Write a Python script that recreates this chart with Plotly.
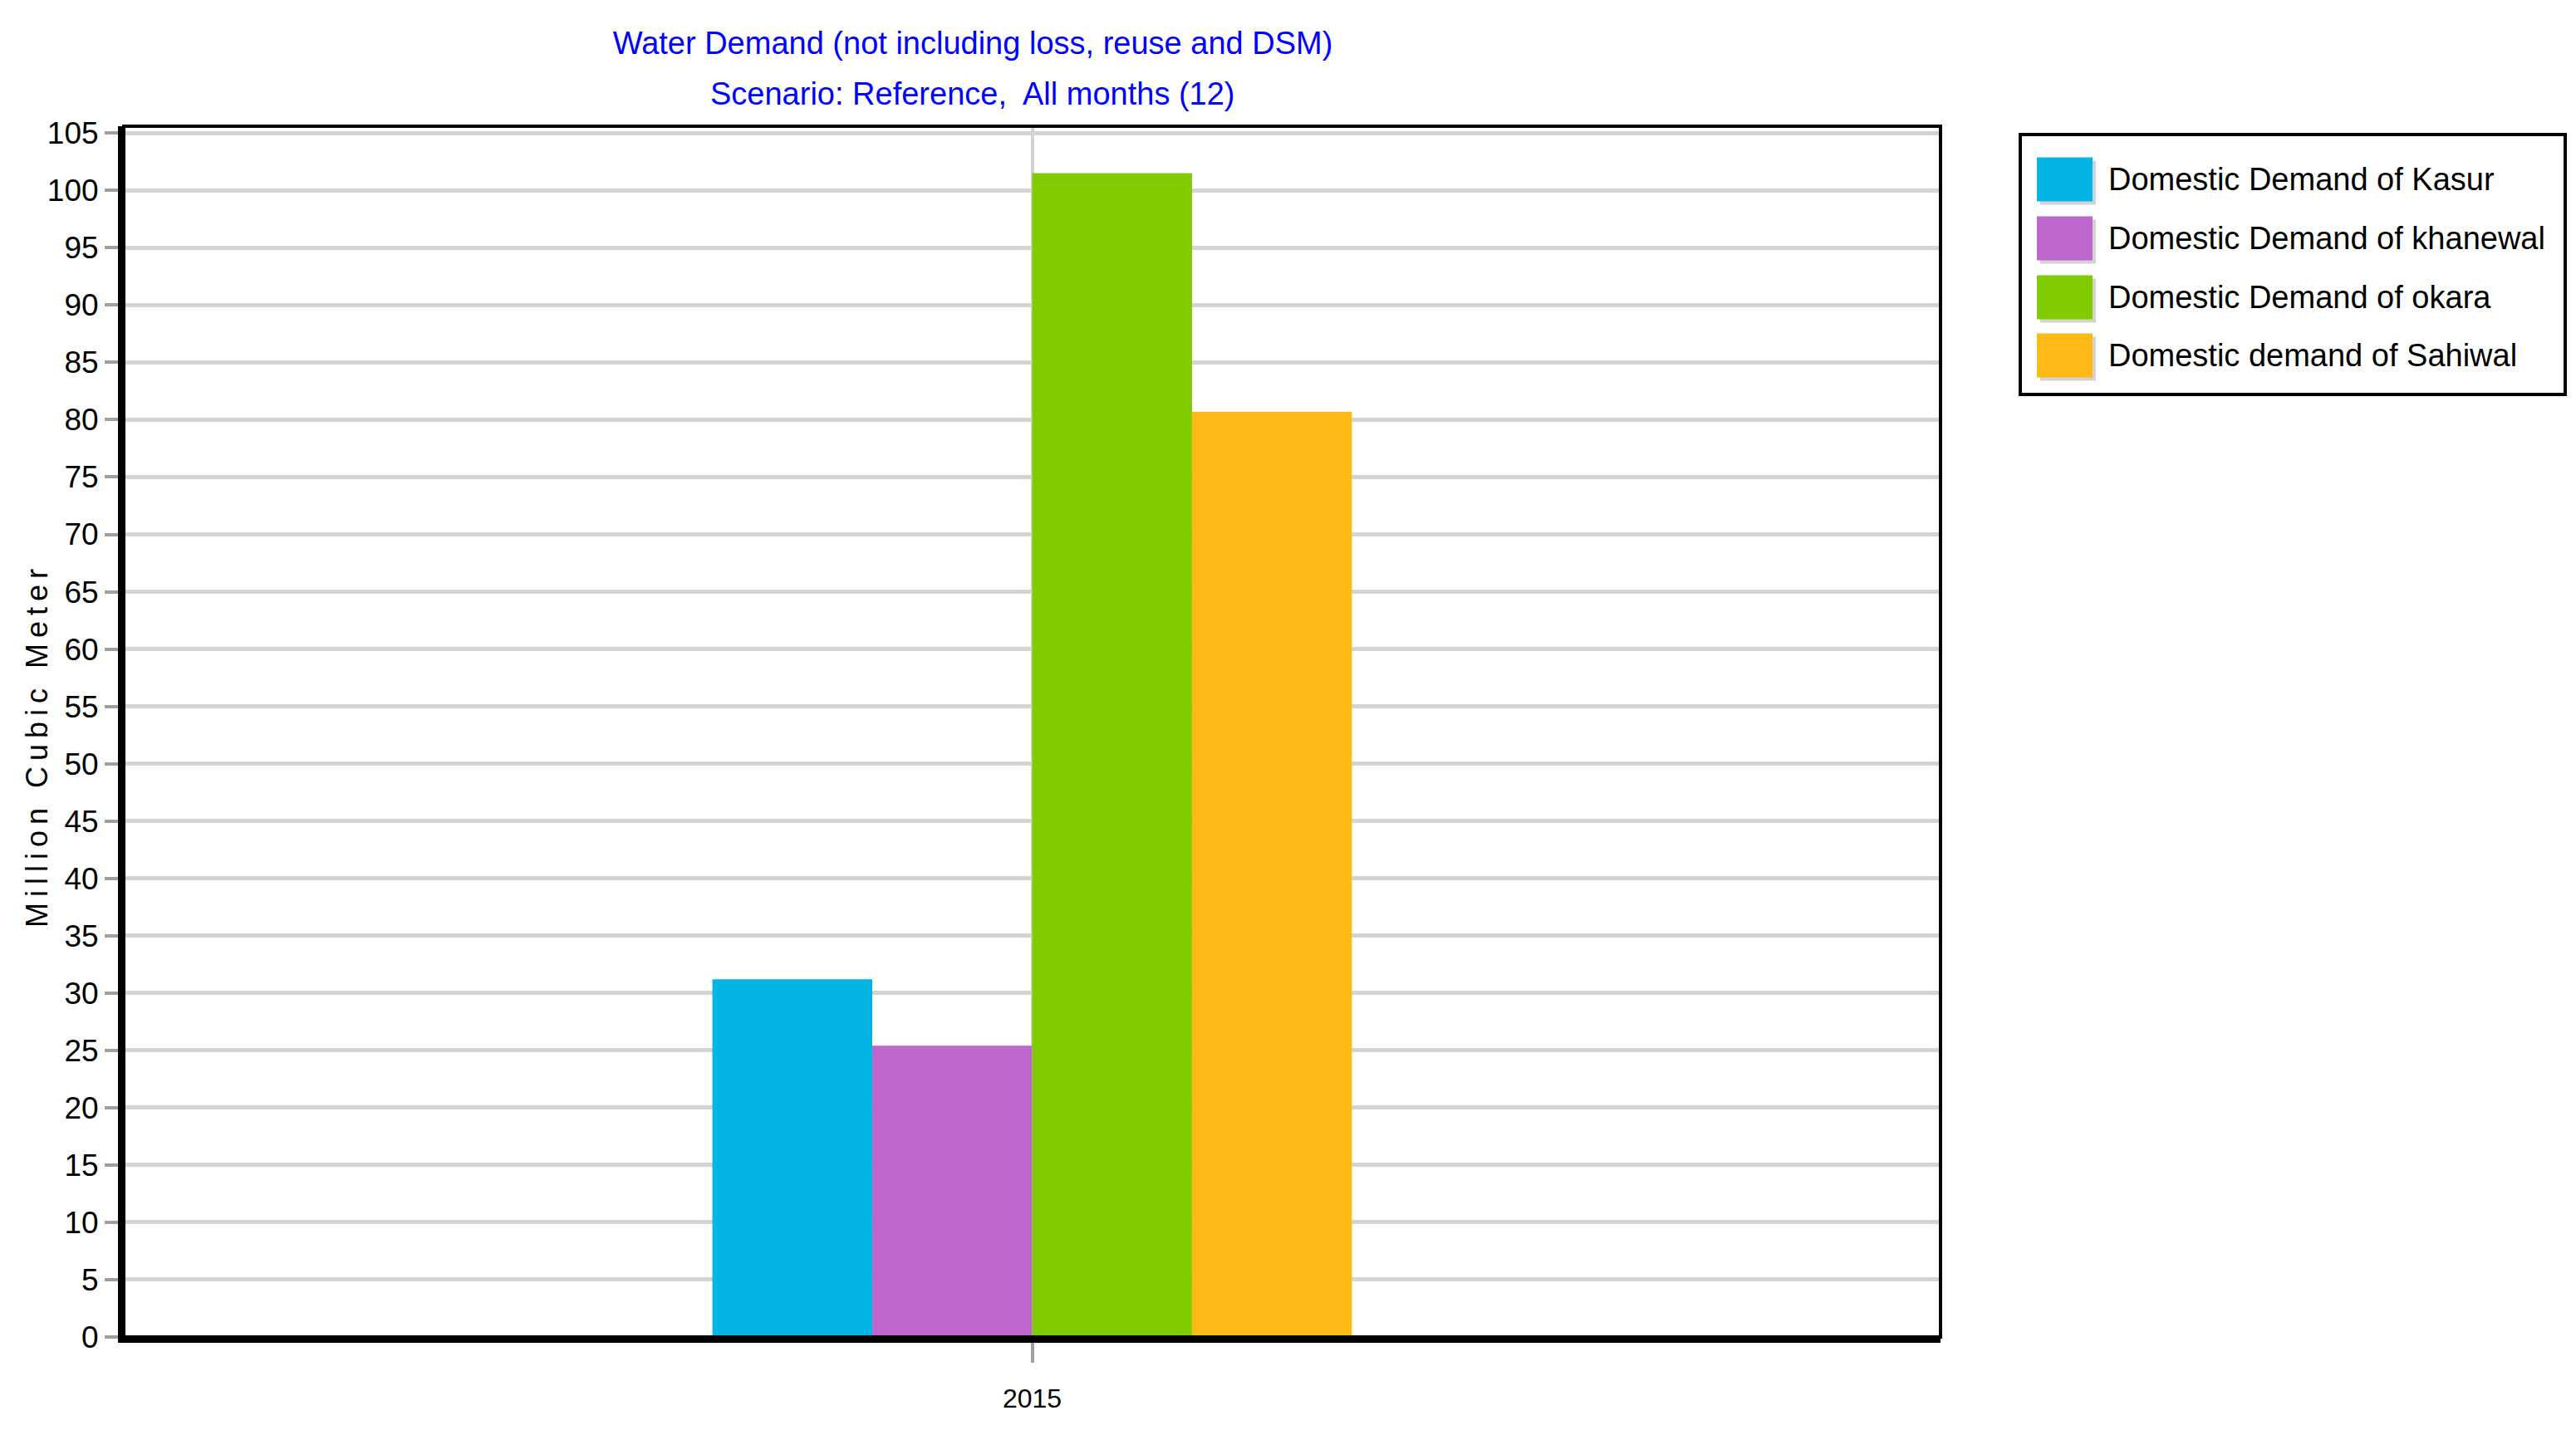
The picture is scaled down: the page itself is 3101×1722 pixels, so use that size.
import plotly.graph_objects as go

# ---- data ----
categories = ["2015"]
series_names = [
    "Domestic Demand of Kasur",
    "Domestic Demand of khanewal",
    "Domestic Demand of okara",
    "Domestic demand of Sahiwal",
]
series_values = [
    [31.2],
    [25.4],
    [101.5],
    [80.7],
]
series_colors = ["#02B5E5", "#BD66CC", "#80CC00", "#FDBA16"]
y_ticks = list(range(0, 106, 5))

title_lines = ["Water Demand (not including loss, reuse and DSM)",
               "Scenario: Reference,  All months (12)"]
y_title = "Million Cubic Meter"

W, H = 3101, 1722
L, R, T, B = 141, 773, 144, 120
PW, PH = W - L - R, H - T - B
FONT = "Liberation Sans, Arial, sans-serif"


def px_x(x):
    return (x - L) / PW


def px_y(y):
    return 1 - (y - T) / PH


fig = go.Figure()
for name, vals, col in zip(series_names, series_values, series_colors):
    fig.add_trace(go.Bar(x=categories, y=vals, name=name,
                         marker=dict(color=col, line=dict(width=0)),
                         showlegend=False))

shapes = []
annotations = []

# thin top/right frame
shapes.append(dict(type="rect", xref="paper", yref="paper", x0=0, x1=1, y0=0, y1=1,
                   line=dict(color="black", width=4), layer="above"))

# custom legend
lx0, lx1, ly0, ly1 = 2424, 3080, 154, 467
shapes.append(dict(type="rect", xref="paper", yref="paper",
                   x0=px_x(lx0), x1=px_x(lx1), y0=px_y(ly1), y1=px_y(ly0),
                   line=dict(color="black", width=4), fillcolor="white"))
row_y = [208, 279, 350, 420]
sw_x0, sw_x1, sw_h = 2444, 2511, 53
for i, (name, col) in enumerate(zip(series_names, series_colors)):
    cy = row_y[i]
    shapes.append(dict(type="rect", xref="paper", yref="paper",
                       x0=px_x(sw_x0 + 4), x1=px_x(sw_x1 + 4),
                       y0=px_y(cy + sw_h / 2 + 4), y1=px_y(cy - sw_h / 2 + 4),
                       line=dict(width=0), fillcolor="#D3D3D3"))
    shapes.append(dict(type="rect", xref="paper", yref="paper",
                       x0=px_x(sw_x0), x1=px_x(sw_x1),
                       y0=px_y(cy + sw_h / 2), y1=px_y(cy - sw_h / 2),
                       line=dict(width=0), fillcolor=col))
    annotations.append(dict(xref="paper", yref="paper", x=px_x(2528), y=px_y(cy),
                            xanchor="left", yanchor="middle", showarrow=False,
                            text=name, font=dict(family=FONT, size=38, color="black")))

# second title line
annotations.append(dict(xref="paper", yref="paper", x=px_x(1163), y=px_y(105),
                        xanchor="center", yanchor="middle", showarrow=False,
                        text=title_lines[1],
                        font=dict(family=FONT, size=38, color="#0000FF")))

# y axis title with letter spacing
annotations.append(dict(xref="paper", yref="paper", x=px_x(36), y=px_y(890),
                        xanchor="center", yanchor="middle", showarrow=False, textangle=-90,
                        text='<span style="letter-spacing:7px">' + y_title + '</span>',
                        font=dict(family=FONT, size=36, color="black")))

fig.update_layout(
    width=W, height=H,
    margin=dict(l=L, r=R, t=T, b=B, pad=0),
    paper_bgcolor="white", plot_bgcolor="white",
    barmode="group", bargap=0.648, bargroupgap=0,
    title=dict(text=title_lines[0], x=1163 / W, xanchor="center",
               y=1 - 44 / H, yanchor="middle", yref="container",
               font=dict(family=FONT, size=38, color="#0000FF")),
    font=dict(family=FONT, color="black"),
    shapes=shapes, annotations=annotations,
    showlegend=False,
)
fig.update_xaxes(type="category", range=[-0.5, 0.5],
                 showline=True, linecolor="black", linewidth=7,
                 showgrid=True, gridcolor="#D3D3D3", gridwidth=4,
                 ticks="outside", ticklen=24, tickwidth=4, tickcolor="#A0A0A0",
                 ticklabelstandoff=16,
                 tickfont=dict(family=FONT, size=32, color="black"))
fig.update_yaxes(range=[0, 105.6], tickmode="array", tickvals=y_ticks,
                 showline=True, linecolor="black", linewidth=7,
                 showgrid=True, gridcolor="#D3D3D3", gridwidth=5,
                 zeroline=False,
                 ticks="outside", ticklen=16, tickwidth=4, tickcolor="#A0A0A0",
                 tickfont=dict(family=FONT, size=37, color="black"))

fig.write_html("out.html")
